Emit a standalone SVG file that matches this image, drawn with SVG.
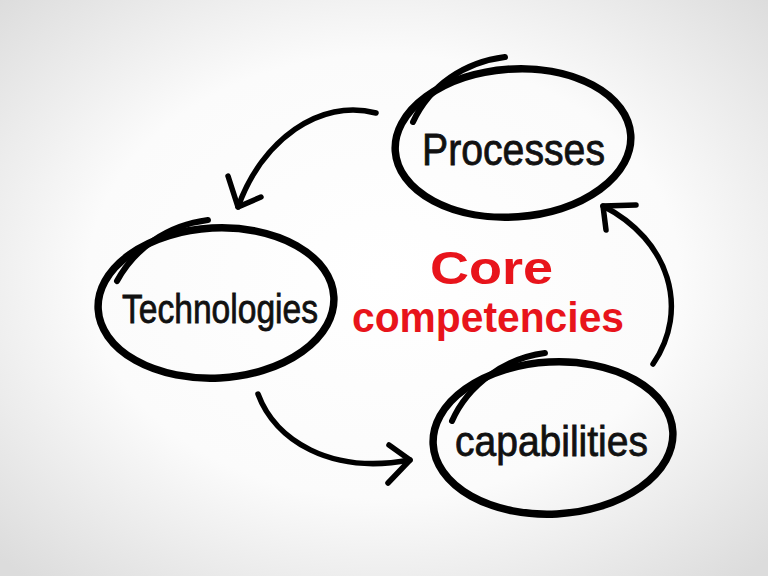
<svg xmlns="http://www.w3.org/2000/svg" width="768" height="576" viewBox="0 0 768 576">
  <defs>
    <radialGradient id="bg" cx="50%" cy="48%" r="70%">
      <stop offset="0" stop-color="#ffffff"/>
      <stop offset="0.55" stop-color="#fbfbfb"/>
      <stop offset="1" stop-color="#dcdcdc"/>
    </radialGradient>
  </defs>
  <style>
    .ring{fill:none;stroke:#000;stroke-width:7.5;stroke-linecap:round}
    .arc{fill:none;stroke:#000;stroke-width:6;stroke-linecap:round}
    .conn{fill:none;stroke:#000;stroke-width:5.5;stroke-linecap:round;stroke-linejoin:round}
    .lbl{font-family:"Liberation Sans","DejaVu Sans",sans-serif;fill:#111;stroke:#111;stroke-width:0.8}
    .core{font-family:"Liberation Sans","DejaVu Sans",sans-serif;fill:#e8141b;font-weight:bold}
  </style>
  <rect x="0" y="0" width="768" height="576" fill="url(#bg)"/>

  <g id="connectors">
    <path class="conn" d="M376,113 C320,98 262,140 238,207"/>
    <path class="conn" d="M228,176 L238,207 L261,197"/>
    <path class="conn" d="M258,394 C275,440 330,475 410,460"/>
    <path class="conn" d="M389,445 L410,460 L388,483"/>
    <path class="conn" d="M653,364 C690,310 670,240 603,206"/>
    <path class="conn" d="M636,205 L603,206 L606,230"/>
  </g>

  <g id="processes">
    <ellipse class="ring" cx="513" cy="143" rx="118" ry="74" transform="rotate(-4 513 143)"/>
    <path class="arc" d="M413,122 C430,85 465,62 505,57"/>
    <text class="lbl" x="422" y="165" font-size="44" textLength="183" lengthAdjust="spacingAndGlyphs">Processes</text>
  </g>

  <g id="technologies">
    <ellipse class="ring" cx="216" cy="303" rx="118" ry="75" transform="rotate(-3 216 303)"/>
    <path class="arc" d="M117,281 C135,248 168,225 208,220"/>
    <text class="lbl" x="122" y="323" font-size="40" textLength="196" lengthAdjust="spacingAndGlyphs">Technologies</text>
  </g>

  <g id="capabilities">
    <ellipse class="ring" cx="553" cy="438" rx="120" ry="76" transform="rotate(-3 553 438)"/>
    <path class="arc" d="M452,421 C468,385 505,358 545,353"/>
    <text class="lbl" x="455" y="456" font-size="42" textLength="193" lengthAdjust="spacingAndGlyphs">capabilities</text>
  </g>

  <g id="core">
    <text class="core" x="430" y="284" font-size="46" textLength="123" lengthAdjust="spacingAndGlyphs">Core</text>
    <text class="core" x="352" y="332" font-size="42" textLength="272" lengthAdjust="spacingAndGlyphs">competencies</text>
  </g>
</svg>
